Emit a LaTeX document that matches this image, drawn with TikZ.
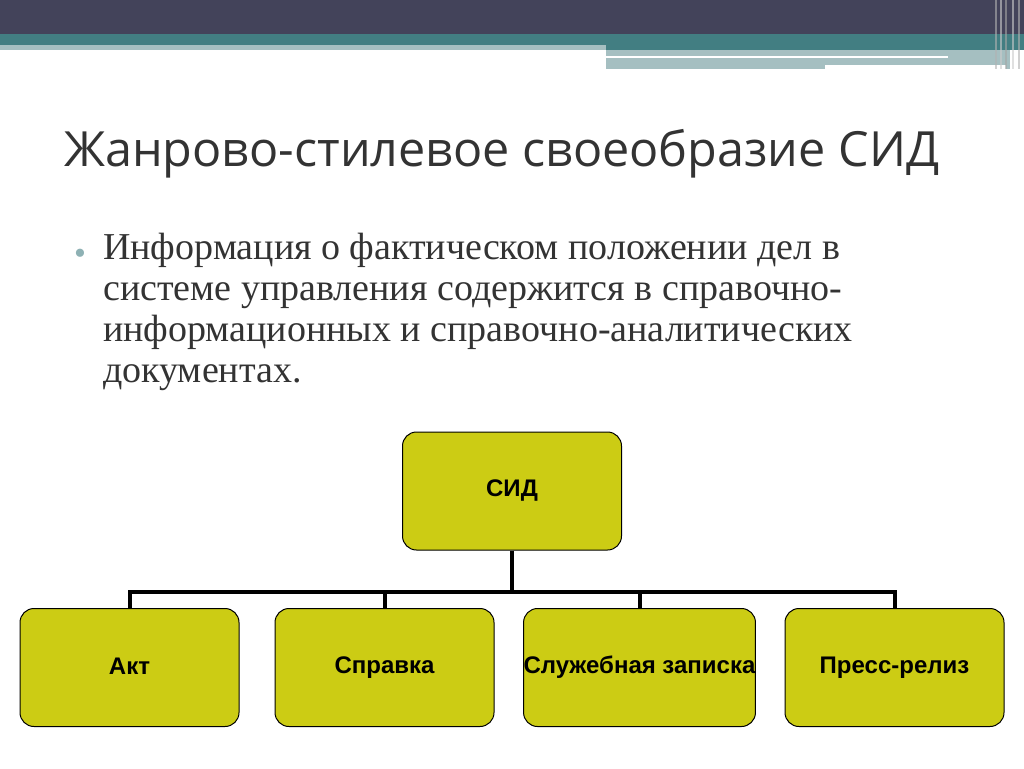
\documentclass[tikz,border=0pt]{standalone}
\usepackage{fontspec}
\setmainfont{Liberation Serif}
\newfontfamily\arialf{Liberation Sans}
\newfontfamily\titlef{Open Sans}
\begin{document}
\begin{tikzpicture}[x=1pt,y=-1pt,
  box/.style={draw=black,line width=1pt,fill=boxc,rounded corners=14pt,minimum width=219pt,minimum height=118pt,font=\arialf\bfseries\fontsize{24}{28}\selectfont,inner sep=0pt},
  conn/.style={line width=4pt}]
\definecolor{boxc}{HTML}{CCCC14}
\definecolor{dark}{HTML}{43435A}
\definecolor{teal}{HTML}{427E82}
\definecolor{lite}{HTML}{A5BFC1}
\definecolor{txt}{HTML}{333333}
\useasboundingbox (0,0) rectangle (1024,768);
\fill[white] (0,0) rectangle (1024,768);
\fill[dark] (0,0) rectangle (1024,34);
\fill[teal] (0,34) rectangle (1024,45);
\fill[lite] (0,45) rectangle (606,50);
\fill[teal] (606,45) rectangle (1024,50);
\fill[lite] (606,50) rectangle (1010,69);
\fill[white] (606,56) rectangle (948,58);
\fill[white] (825,65) rectangle (1006,69);
\foreach \xx/\cc in {995/gray!60,1000/gray!40,1005/gray!70,1012/gray!40,1018/gray!60}{\fill[\cc,opacity=0.6] (\xx,0) rectangle ++(2,69);}
\node[anchor=base west,text=txt,font=\titlef\fontsize{48.5}{54}\selectfont,inner sep=0pt] (title) at (64,166) {Жанрово-стилевое своеобразие СИД};
\node[anchor=base west,text=teal!60,font=\fontsize{34}{38}\selectfont,inner sep=0pt] (bul) at (74,264) {•};
\node[anchor=north west,text=txt,align=left,font=\fontsize{38}{41}\selectfont,inner sep=0pt] (body) at (103,233)
 {Информация о фактическом положении дел в\\системе управления содержится в справочно-\\информационных и справочно-аналитических\\документах.};
\node[box] (sid) at (512,491) {СИД};
\node[box] (a) at (129.5,667.5) {\raisebox{3pt}{Акт}\hspace{14pt}};
\node[box] (b) at (384.5,667.5) {Справка};
\node[box] (c) at (639.5,667.5) {Служебная записка};
\node[box] (d) at (894.5,667.5) {Пресс-релиз};
\coordinate (j) at (512,592);
\draw[conn] (sid.south) -- (j);
\draw[conn] (a.north) -- (a.north|-j) -- (d.north|-j) -- (d.north);
\draw[conn] (b.north) -- (b.north|-j);
\draw[conn] (c.north) -- (c.north|-j);
\end{tikzpicture}
\end{document}
